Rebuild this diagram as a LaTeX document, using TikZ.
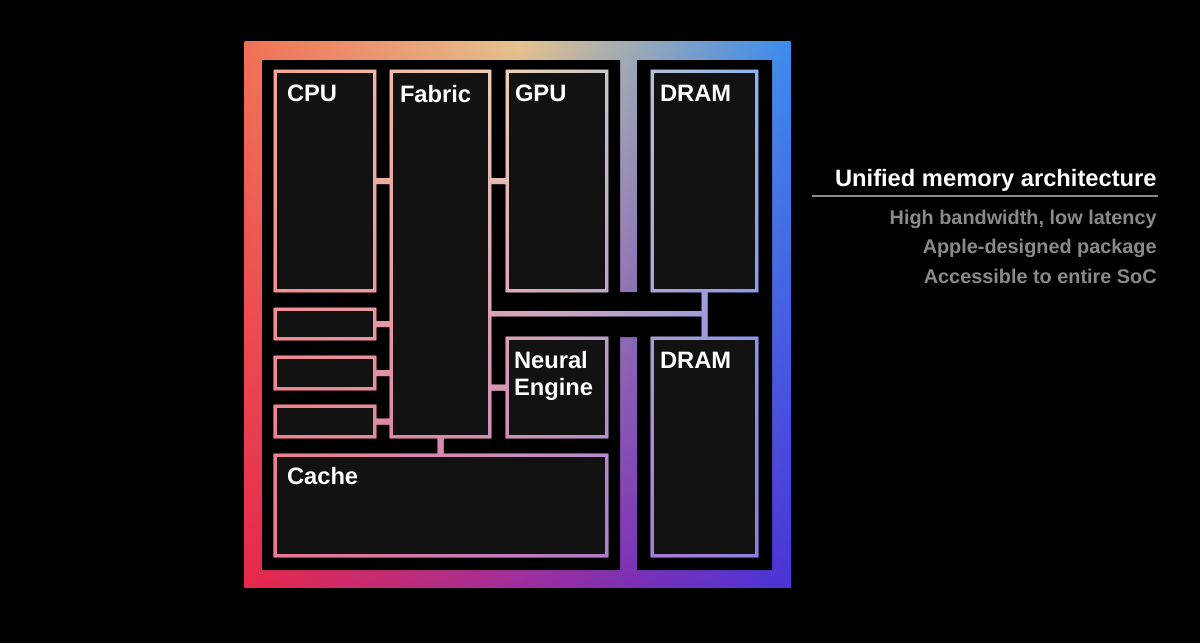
\documentclass[tikz,border=0pt]{standalone}
\usepackage{fontspec}
\setmainfont{Liberation Sans}
\usetikzlibrary{calc,fit,fadings}
\definecolor{cTL}{HTML}{F27256}
\definecolor{cTM}{HTML}{E6C48E}
\definecolor{cTR}{HTML}{3A8CF0}
\definecolor{cBL}{HTML}{E8284A}
\definecolor{cBM}{HTML}{A02C9C}
\definecolor{cBR}{HTML}{4A34D8}
\definecolor{boxfill}{HTML}{121212}
\definecolor{subgray}{HTML}{8A8A8A}
\tikzset{
  blk/.style={fit={#1}, inner sep=0pt}, % box outline area
  lbl/.style={anchor=north west, inner sep=0pt, text=white,
    font=\bfseries\fontsize{13.5}{15.5}\selectfont, align=left},
  sub/.style={anchor=base east, inner sep=0pt, text=subgray,
    font=\bfseries\fontsize{11.3}{13}\selectfont}
}
\begin{document}
\begin{tikzpicture}[x=0.02cm,y=-0.02cm]
  \fill[black] (0,0) rectangle (1200,643);

  % chip and blocks
  \node[blk={(245,42)(790,587)}] (chip) {};
  \node[blk={(274,70)(376,292)}] (cpu) {};
  \node[blk={(390,70)(491,438)}] (fab) {};
  \node[blk={(506,70)(608,292)}] (gpu) {};
  \node[blk={(651,70)(758,292)}] (dramA) {};
  \node[blk={(651,337)(758,557)}] (dramB) {};
  \node[blk={(274,308)(376,340)}] (s1) {};
  \node[blk={(274,356)(376,390)}] (s2) {};
  \node[blk={(274,405)(376,438)}] (s3) {};
  \node[blk={(506,337)(608,438)}] (ne) {};
  \node[blk={(274,454)(608,557)}] (cache) {};

  % gradient frame
  \shade[left color=cTL, right color=cTR, middle color=cTM]
    (chip.south west) rectangle (chip.north east);
  \shade[left color=cBL, right color=cBR, middle color=cBM, path fading=north]
    (chip.south west) rectangle (chip.north east);
  \fill[black] (262,60) rectangle (620,570) (637,60) rectangle (772,570)
    (615,292) rectangle (642,337);

  % outlines and links
  \begin{scope}
    \clip (cpu.south west) rectangle (cpu.north east)
      (fab.south west) rectangle (fab.north east)
      (gpu.south west) rectangle (gpu.north east)
      (dramA.south west) rectangle (dramA.north east)
      (dramB.south west) rectangle (dramB.north east)
      (s1.south west) rectangle (s1.north east)
      (s2.south west) rectangle (s2.north east)
      (s3.south west) rectangle (s3.north east)
      (ne.south west) rectangle (ne.north east)
      (cache.south west) rectangle (cache.north east)
      ($(cpu.east)+(0,-3)$) rectangle ($(fab.west |- cpu.east)+(0,3)$)
      ($(gpu.west)+(0,-3)$) rectangle ($(fab.east |- gpu.west)+(0,3)$)
      ($(s1.east)+(0,-3)$) rectangle ($(fab.west |- s1.east)+(0,3)$)
      ($(s2.east)+(0,-3)$) rectangle ($(fab.west |- s2.east)+(0,3)$)
      ($(s3.east)+(0,-3)$) rectangle ($(fab.west |- s3.east)+(0,3)$)
      ($(ne.west)+(0,-3)$) rectangle ($(fab.east |- ne.west)+(0,3)$)
      ($(fab.south)+(-3,0)$) rectangle ($(cache.north -| fab.south)+(3,0)$)
      ($(dramA.south)+(-3,0)$) rectangle ($(dramB.north)+(3,0)$)
      ($(fab.east)+(0,57)$) rectangle ($(dramA.south)+(3,62-38)$);
    \shade[left color=cTL, right color=cTR, middle color=cTM]
      (chip.south west) rectangle (chip.north east);
    \shade[left color=cBL, right color=cBR, middle color=cBM, path fading=north]
      (chip.south west) rectangle (chip.north east);
    \fill[white, opacity=0.35] (chip.south west) rectangle (chip.north east);
  \end{scope}
  \foreach \b in {cpu,fab,gpu,dramA,dramB,s1,s2,s3,ne,cache}
    \fill[boxfill] ($(\b.south west)+(3,-3)$) rectangle ($(\b.north east)+(-3,3)$);

  % labels
  \node[lbl] (cpuL) at ($(cpu.north west)+(13,15)$) {CPU};
  \node[lbl] (fabL) at ($(fab.north west)+(10,15)$) {Fabric};
  \node[lbl] (gpuL) at ($(gpu.north west)+(9,15)$) {GPU};
  \node[lbl] (dramAL) at ($(dramA.north west)+(9,15)$) {DRAM};
  \node[lbl] (dramBL) at ($(dramB.north west)+(9,15)$) {DRAM};
  \node[lbl] (neL) at ($(ne.north west)+(8,14)$) {Neural\\Engine};
  \node[lbl] (cacheL) at ($(cache.north west)+(13,13)$) {Cache};

  % caption
  \node[anchor=base east, inner sep=0pt, text=white,
    font=\bfseries\fontsize{13.5}{15.5}\selectfont] (title) at (1157,186) {Unified memory architecture};
  \draw[subgray, line width=0.6pt] (812,196) -- (1158,196);
  \node[sub] (t1) at (1157,224) {High bandwidth, low latency};
  \node[sub] (t2) at (1157,253) {Apple-designed package};
  \node[sub] (t3) at (1157,283) {Accessible to entire SoC};
\end{tikzpicture}
\end{document}
